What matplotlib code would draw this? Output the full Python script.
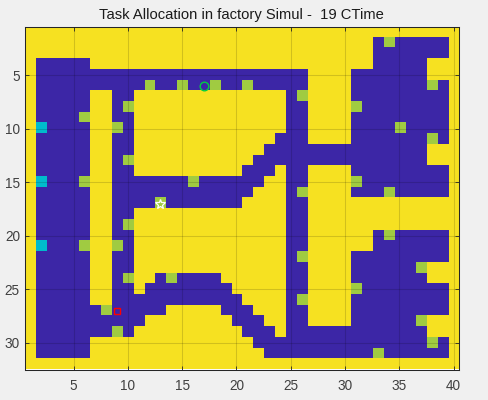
import matplotlib
matplotlib.use("Agg")
import matplotlib.pyplot as plt
import numpy as np
from matplotlib.colors import ListedColormap

plt.rcParams["font.family"] = ["Liberation Sans", "DejaVu Sans"]

n_cols = 40

# walkable (blue) column spans for rows 1..32, everything else is yellow
free_spans = [
    [],
    [(33, 39)],
    [(33, 39)],
    [(2, 6), (33, 37)],
    [(2, 26), (31, 37)],
    [(2, 26), (31, 39)],
    [(2, 6), (9, 10), (25, 26), (31, 39)],
    [(2, 6), (9, 10), (25, 26), (31, 39)],
    [(2, 6), (9, 10), (25, 26), (31, 39)],
    [(2, 6), (9, 10), (25, 26), (31, 39)],
    [(2, 6), (9, 10), (24, 26), (31, 39)],
    [(2, 6), (9, 10), (23, 37)],
    [(2, 6), (9, 10), (22, 37)],
    [(2, 6), (9, 10), (21, 23), (25, 26), (31, 39)],
    [(2, 6), (9, 22), (25, 26), (31, 39)],
    [(2, 6), (9, 21), (25, 26), (31, 39)],
    [(2, 6), (9, 20), (25, 26)],
    [(2, 6), (9, 10), (25, 26)],
    [(2, 6), (9, 10), (25, 26)],
    [(2, 6), (9, 10), (25, 26), (33, 39)],
    [(2, 6), (9, 10), (25, 26), (33, 39)],
    [(2, 6), (9, 10), (25, 26), (31, 39)],
    [(2, 6), (9, 10), (25, 26), (31, 37)],
    [(2, 6), (9, 10), (13, 18), (25, 26), (31, 37)],
    [(2, 6), (9, 10), (12, 19), (25, 26), (31, 39)],
    [(2, 6), (9, 20), (25, 26), (31, 39)],
    [(2, 13), (19, 21), (25, 26), (31, 39)],
    [(2, 11), (20, 22), (25, 26), (31, 37)],
    [(2, 10), (21, 23), (25, 37)],
    [(2, 6), (22, 39)],
    [(2, 6), (23, 39)],
    [],
]

# task stations (green) as column, row
task_cols = [34, 12, 15, 18, 21, 38, 26, 31, 10, 6, 9, 35, 38, 10, 6, 16, 31, 26, 34, 13,
             10, 34, 6, 9, 26, 10, 14, 37, 31, 26, 8, 37, 9, 38, 33]
task_rows = [2, 6, 6, 6, 6, 6, 7, 8, 8, 9, 10, 10, 11, 13, 15, 15, 15, 16, 16, 17,
             19, 20, 21, 21, 22, 24, 24, 23, 25, 26, 27, 28, 29, 30, 31]

# depots (cyan)
depot_cols = [2, 2, 2]
depot_rows = [10, 15, 21]

agent_circle = (17, 6)
agent_square = (9, 27)
agent_star = (13, 17)

grid = np.full((len(free_spans), n_cols), 3)
for r, spans in enumerate(free_spans):
    for a, b in spans:
        grid[r, a - 1:b] = 0
for c, r in zip(task_cols, task_rows):
    grid[r - 1, c - 1] = 2
for c, r in zip(depot_cols, depot_rows):
    grid[r - 1, c - 1] = 1

cmap = ListedColormap(["#3c26a6", "#00bbcc", "#a0cb41", "#f6e121"])

fig = plt.figure(figsize=(4.88, 4.0), dpi=100, facecolor="#f0f0f0")
ax = fig.add_axes([24.8 / 488, 1 - 369.5 / 400, (459 - 24.8) / 488, (369.5 - 27.3) / 400])
ax.imshow(grid, cmap=cmap, vmin=0, vmax=3, aspect="auto", interpolation="nearest",
          extent=(0.5, 40.5, 32.5, 0.5))

ax.plot(*agent_circle, "o", mfc="none", mec="#00d040", ms=6.2, mew=1)
ax.plot(*agent_square, "s", mfc="none", mec="#ff0000", ms=5, mew=1)
ax.plot(*agent_star, "*", mfc="none", mec="white", ms=7.5, mew=0.9)

ax.set_xlim(0.5, 40.5)
ax.set_ylim(32.5, 0.5)
ax.set_xticks(np.arange(5, 41, 5))
ax.set_yticks(np.arange(5, 31, 5))
ax.set_axisbelow(False)
ax.grid(True, color="black", alpha=0.15, linewidth=0.75)
ax.tick_params(direction="in", length=3.2, width=0.6, top=True, right=True,
               labelsize=9.8, color="#262626", labelcolor="#404040")
ax.tick_params(axis="x", pad=6.5)
ax.tick_params(axis="y", pad=3.5)
for s in ax.spines.values():
    s.set_linewidth(0.75)
    s.set_color("#262626")

ax.set_title("Task Allocation in factory Simul -  19 CTime", fontsize=10.65, color="#1a1a1a", pad=6)

fig.savefig("out.png", dpi=100, facecolor=fig.get_facecolor())
